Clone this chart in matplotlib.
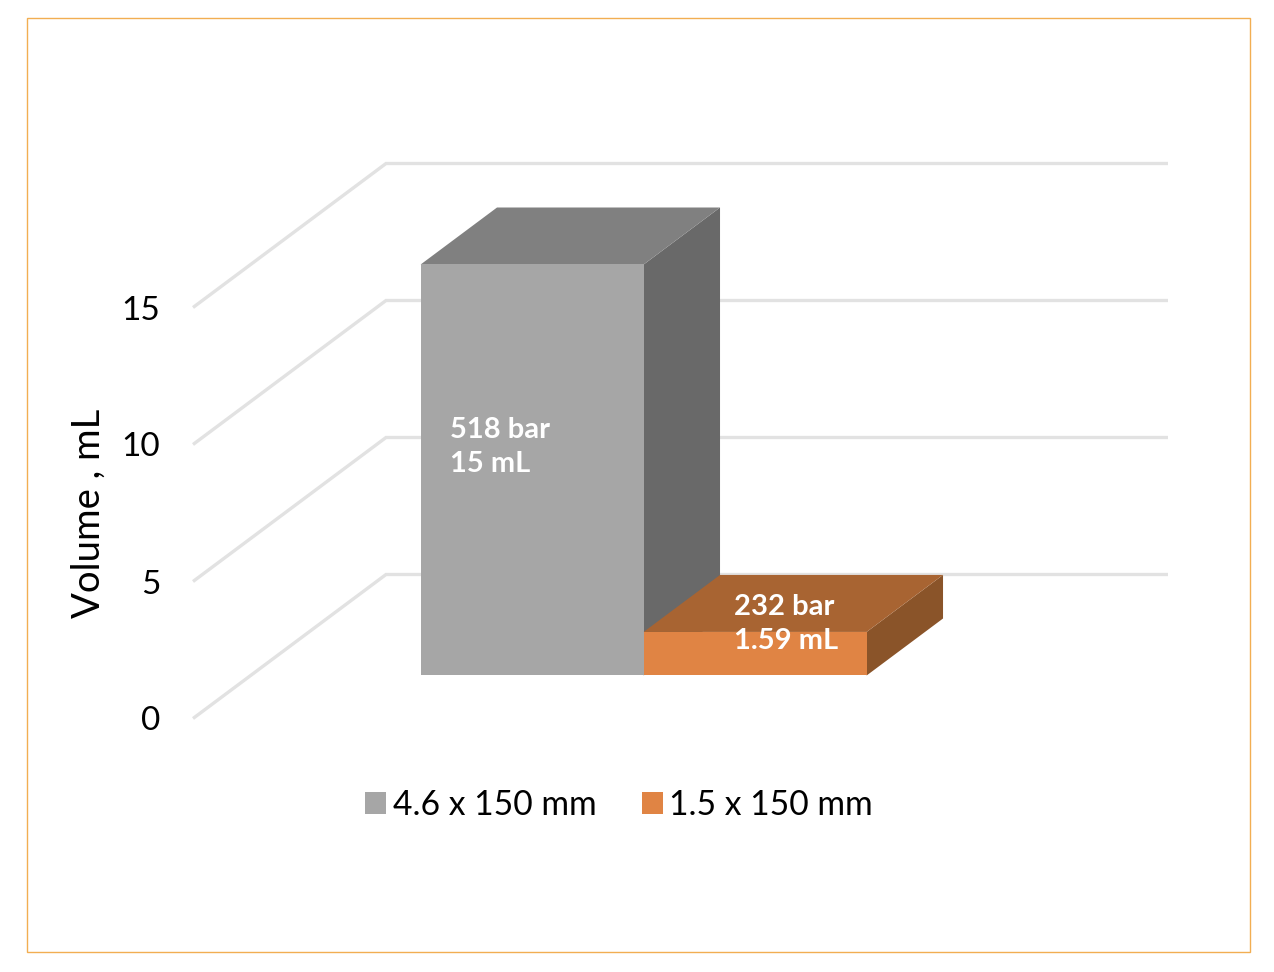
import matplotlib
matplotlib.use("Agg")
import matplotlib.pyplot as plt
from matplotlib.patches import Polygon, Patch, Rectangle

columns = ["4.6 x 150 mm", "1.5 x 150 mm"]
volumes = [15, 1.59]
pressures = ["518 bar", "232 bar"]
volume_labels = ["15 mL", "1.59 mL"]
y_ticks = [0, 5, 10, 15]

front_colors = ["#a6a6a6", "#e08444"]
top_colors = ["#808080", "#a86432"]
side_colors = ["#696969", "#8a5429"]
grid_color = "#e2e2e2"
frame_color = "#f2ae52"

W, H = 1274, 972
plt.rcParams["font.family"] = ["Lato", "DejaVu Sans"]

fig = plt.figure(figsize=(W / 100, H / 100), dpi=100)
ax = fig.add_axes([193 / W, 1 - 718.5 / H, (1168 - 193) / W, (718.5 - 307.5) / H])

# one bar width is 223 px, one volume unit 27.4 px, x=0 is 57 px left of the drawn bar
ax.set_xlim((193 - 363) / 223, (1168 - 363) / 223)
ax.set_ylim(0, 15)

# oblique projection: depth 1 = back wall of the chart
DEPTH_X = 193 / 223
DEPTH_Y = 144 / 27.4


def project(x, v, d):
    return x + DEPTH_X * d, v + DEPTH_Y * d


# floor / wall gridlines
x_left = ax.get_xlim()[0]
x_right = ax.get_xlim()[1]
for t in y_ticks:
    p0 = project(x_left, t, 0)
    p1 = project(x_left, t, 1)
    ax.plot([p0[0], p1[0], x_right], [p0[1], p1[1], p1[1]], color=grid_color,
            lw=2.4, clip_on=False, zorder=1, solid_joinstyle="miter", solid_capstyle="butt")

# bars sit between these depths
d0 = 43 / 144
d1 = 100 / 144


def box(x, v, i):
    x0, x1 = x, x + 1
    front = [project(x0, 0, d0), project(x1, 0, d0), project(x1, v, d0), project(x0, v, d0)]
    top = [project(x0, v, d0), project(x1, v, d0), project(x1, v, d1), project(x0, v, d1)]
    side = [project(x1, 0, d0), project(x1, 0, d1), project(x1, v, d1), project(x1, v, d0)]
    z = 2 + i
    ax.add_patch(Polygon(side, fc=side_colors[i], ec="none", clip_on=False, zorder=z))
    ax.add_patch(Polygon(top, fc=top_colors[i], ec="none", clip_on=False, zorder=z))
    ax.add_patch(Polygon(front, fc=front_colors[i], ec="none", clip_on=False, zorder=z + 0.1))


for i in range(len(volumes)):
    box(i, volumes[i], i)

ax.text((450 - 363) / 223, (718.5 - 447) / 27.4, pressures[0] + "\n" + volume_labels[0],
        color="white", fontsize=21, fontweight="bold", va="center", ha="left",
        linespacing=1.37, zorder=6)
ax.text((734 - 363) / 223, (718.5 - 624) / 27.4, pressures[1] + "\n" + volume_labels[1],
        color="white", fontsize=21, fontweight="bold", va="center", ha="left",
        linespacing=1.37, zorder=6)

for s in ax.spines.values():
    s.set_visible(False)
ax.patch.set_visible(False)
ax.set_xticks([])
ax.set_yticks(y_ticks)
ax.tick_params(axis="y", length=0, pad=23.5, labelsize=24)
ax.set_ylabel("Volume , mL", fontsize=27.5)
ax.yaxis.set_label_coords((107 - 193) / 975, 0.5)

handles = [Patch(fc=front_colors[0], ec="none"), Patch(fc=front_colors[1], ec="none")]
fig.legend(handles, columns, loc="center", bbox_to_anchor=(619 / W, 1 - 804.5 / H), ncol=2,
           frameon=False, fontsize=24.2, handlelength=0.62, handleheight=0.62,
           handletextpad=0.2, columnspacing=1.36)

fig.add_artist(Rectangle((26.5 / W, 1 - 952 / H), (1250 - 26.5) / W, (952 - 18) / H, fill=False,
                         ec=frame_color, lw=1.0, transform=fig.transFigure))

fig.savefig("out.png", dpi=100)
